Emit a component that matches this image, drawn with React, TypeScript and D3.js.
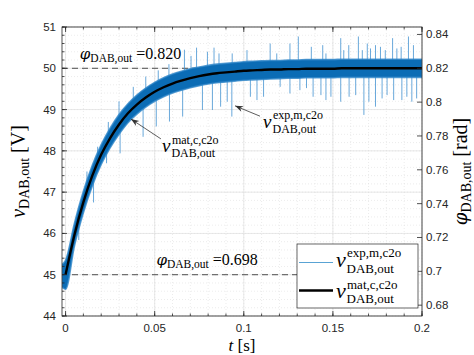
import React from "react";
import * as d3 from "d3";

// ---- data ----
const timeS = [0,0.005,0.01,0.015,0.02,0.025,0.03,0.035,0.04,0.045,0.05,0.055,0.06,0.065,0.07,0.075,0.08,0.085,0.09,0.095,0.1,0.105,0.11,0.115,0.12,0.125,0.13,0.135,0.14,0.145,0.15,0.155,0.16,0.165,0.17,0.175,0.18,0.185,0.19,0.195,0.2];
const vMat = [45.00,45.97,46.76,47.40,47.91,48.31,48.64,48.91,49.12,49.29,49.43,49.54,49.63,49.70,49.76,49.81,49.85,49.88,49.90,49.92,49.94,49.95,49.96,49.97,49.97,49.98,49.98,49.99,49.99,49.99,49.99,50.00,50.00,50.00,50.00,50.00,50.00,50.00,50.00,50.00,50.00];

const expT = [-0.002,0,0.005,0.01,0.015,0.02,0.025,0.03,0.035,0.04,0.045,0.05,0.055,0.06,0.065,0.07,0.075,0.08,0.085,0.09,0.095,0.1,0.105,0.11,0.115,0.12,0.125,0.13,0.135,0.14,0.145,0.15,0.155,0.16,0.165,0.17,0.175,0.18,0.185,0.19,0.195,0.2];
const expUpper = [45.25,45.35,46.25,47.02,47.65,48.15,48.55,48.88,49.14,49.35,49.52,49.66,49.77,49.86,49.93,49.99,50.03,50.07,50.10,50.12,50.14,50.16,50.17,50.18,50.19,50.19,50.20,50.20,50.21,50.21,50.21,50.21,50.22,50.22,50.22,50.22,50.22,50.22,50.22,50.22,50.22,50.22];
const expLower = [44.70,44.65,45.70,46.50,47.15,47.67,48.07,48.40,48.68,48.89,49.06,49.20,49.31,49.40,49.47,49.53,49.58,49.62,49.65,49.67,49.69,49.71,49.72,49.73,49.74,49.75,49.76,49.76,49.77,49.77,49.77,49.77,49.78,49.78,49.78,49.78,49.78,49.78,49.78,49.78,49.78,49.78];

const spikeUpT = [0.012,0.018,0.024,0.03,0.038,0.045,0.052,0.058,0.0667,0.0704,0.0735,0.0796,0.0833,0.0861,0.0935,0.1018,0.1148,0.1185,0.1259,0.1306,0.1379,0.1443,0.1461,0.1544,0.1561,0.1589,0.1643,0.1665,0.1693,0.1711,0.1739,0.1767,0.1794,0.1835,0.1859,0.1883,0.1924,0.1952];
const spikeUpV = [47.5,48.1,48.7,49.2,49.55,49.8,49.95,50.1,50.45,50.3,50.5,50.4,50.5,50.36,50.36,50.44,50.6,50.36,50.6,50.77,50.52,50.56,50.36,50.73,50.44,50.56,50.77,50.44,50.6,50.48,50.56,50.52,50.44,50.73,50.48,50.52,50.77,50.56];
const spikeDnT = [0.0074,0.0157,0.023,0.0306,0.0435,0.0509,0.0583,0.0657,0.0768,0.0824,0.087,0.0907,0.0933,0.1037,0.1074,0.1111,0.1204,0.1259,0.1315,0.1352,0.1389,0.1433,0.1461,0.1489,0.1544,0.1591,0.1628,0.1674,0.1702,0.1739,0.1776,0.1804,0.1841,0.1887,0.1915,0.1943,0.197];
const spikeDnV = [45.84,46.75,47.7,47.94,48.34,48.59,48.71,48.83,48.99,48.99,49.07,49.19,48.83,49.31,49.23,49.31,49.55,49.39,49.47,49.52,49.31,49.35,49.23,49.31,49.19,49.31,49.35,48.87,49.19,49.07,49.27,49.35,49.23,49.23,49.31,49.19,49.27];

const xTicks = [0, 0.05, 0.1, 0.15, 0.2];
const xTickLabels = ["0", "0.05", "0.1", "0.15", "0.2"];
const yTicks = [44, 45, 46, 47, 48, 49, 50, 51];
const yRTicks = [0.68, 0.7, 0.72, 0.74, 0.76, 0.78, 0.8, 0.82, 0.84];
const yRTickLabels = ["0.68", "0.7", "0.72", "0.74", "0.76", "0.78", "0.8", "0.82", "0.84"];
const refLevels = [50, 45];
const refLabels = ["=0.820", "=0.698"];

const AX = "#262626";
const SERIF = "'Liberation Serif', 'Times New Roman', serif";
const PHI = "'DejaVu Serif', serif";
const SANS = "'Liberation Sans', Arial, Helvetica, sans-serif";

function Sym({ x, y, main, sup, sub, size, small, supDy, subDy, gap }: any) {
  return (
    <g fontFamily={SERIF} fill="#000">
      <text x={x} y={y} fontSize={size} fontStyle="italic">{main}</text>
      <text x={x + gap} y={y - supDy} fontSize={small}>{sup}</text>
      <text x={x + gap - 0.5} y={y + subDy} fontSize={small}>{sub}</text>
    </g>
  );
}

export default function App() {
  const W = 474, H = 355;
  const L = 62, R = 422, T = 27, B = 316;
  const x = d3.scaleLinear().domain([-0.002, 0.2]).range([L, R]);
  const y = d3.scaleLinear().domain([44, 51]).range([B, T]);
  const yR = d3.scaleLinear().domain([0.6736, 0.8444]).range([B, T]);

  const matAt = (t: number) => {
    const i = Math.max(1, Math.min(timeS.length - 1, d3.bisectLeft(timeS, t)));
    const t0 = timeS[i - 1], t1 = timeS[i];
    const f = (t - t0) / (t1 - t0);
    return vMat[i - 1] + f * (vMat[i] - vMat[i - 1]);
  };

  const band = d3.area<number>()
    .x((_, i) => x(expT[i]))
    .y0((_, i) => y(expLower[i]))
    .y1((_, i) => y(expUpper[i]))
    .curve(d3.curveMonotoneX);
  const matLine = d3.line<number>()
    .x((_, i) => x(timeS[i]))
    .y((d) => y(d))
    .curve(d3.curveMonotoneX);

  const xMinor = d3.range(0, 0.2001, 0.01);
  const yMinor = d3.range(44, 51.001, 0.2);

  const arrow1 = { hx: x(0.0367), hy: y(48.77), tx: x(0.0535), ty: y(48.29) };
  const arrow2 = { hx: x(0.0951), hy: y(49.09), tx: x(0.1091), ty: y(48.84) };

  const arrowHead = (a: any) => {
    const ang = Math.atan2(a.hy - a.ty, a.hx - a.tx);
    const len = 8, wd = 3;
    const bx = a.hx - len * Math.cos(ang), by = a.hy - len * Math.sin(ang);
    const px = -Math.sin(ang) * wd, py = Math.cos(ang) * wd;
    const mx = a.hx - 0.7 * len * Math.cos(ang), my = a.hy - 0.7 * len * Math.sin(ang);
    return `M${a.hx},${a.hy}L${bx + px},${by + py}L${mx},${my}L${bx - px},${by - py}Z`;
  };

  return (
    <svg width={W} height={H} style={{ position: "absolute", left: 0, top: 0, background: "#fff" }}>
      <rect x={0} y={0} width={W} height={H} fill="#fff" />
      <defs>
        <clipPath id="plotClip">
          <rect x={L} y={T} width={R - L} height={B - T} />
        </clipPath>
      </defs>

      {/* minor grid */}
      <g stroke="#d9d9d9" strokeWidth={0.5} strokeDasharray="1,2">
        {xMinor.map((t, i) => (
          <line key={"xm" + i} x1={x(t)} x2={x(t)} y1={T} y2={B} />
        ))}
        {yMinor.map((v, i) => (
          <line key={"ym" + i} x1={L} x2={R} y1={y(v)} y2={y(v)} />
        ))}
      </g>
      {/* major grid */}
      <g stroke="#dedede" strokeWidth={0.7}>
        {xTicks.map((t, i) => (
          <line key={"xg" + i} x1={x(t)} x2={x(t)} y1={T} y2={B} />
        ))}
        {yTicks.map((v, i) => (
          <line key={"yg" + i} x1={L} x2={R} y1={y(v)} y2={y(v)} />
        ))}
      </g>

      {/* reference dashed lines */}
      <g stroke="#505050" strokeWidth={1} strokeDasharray="6,4">
        {refLevels.map((v, i) => (
          <line key={"ref" + i} x1={L} x2={R} y1={y(v)} y2={y(v)} />
        ))}
      </g>

      {/* experimental data */}
      <g clipPath="url(#plotClip)">
        <g stroke="#3a8dcf" strokeWidth={0.9} strokeOpacity={0.85}>
          {spikeUpT.map((t, i) => (
            <line key={"su" + i} x1={x(t)} x2={x(t)} y1={y(matAt(t))} y2={y(spikeUpV[i])} />
          ))}
          {spikeDnT.map((t, i) => (
            <line key={"sd" + i} x1={x(t)} x2={x(t)} y1={y(matAt(t))} y2={y(spikeDnV[i])} />
          ))}
        </g>
        <path d={band(expT) || ""} fill="#0b6cb5" stroke="#2f86c8" strokeWidth={1.6} strokeOpacity={0.8} />
        <path d={matLine(vMat) || ""} fill="none" stroke="#000" strokeWidth={2.4} />
      </g>

      {/* axes box */}
      <rect x={L} y={T} width={R - L} height={B - T} fill="none" stroke={AX} strokeWidth={0.8} />

      {/* ticks */}
      <g stroke={AX} strokeWidth={0.8}>
        {xMinor.map((t, i) => (
          <g key={"xmt" + i}>
            <line x1={x(t)} x2={x(t)} y1={B} y2={B - 2.5} />
            <line x1={x(t)} x2={x(t)} y1={T} y2={T + 2.5} />
          </g>
        ))}
        {xTicks.map((t, i) => (
          <g key={"xt" + i}>
            <line x1={x(t)} x2={x(t)} y1={B} y2={B - 5} />
            <line x1={x(t)} x2={x(t)} y1={T} y2={T + 5} />
          </g>
        ))}
        {yMinor.map((v, i) => (
          <line key={"ymt" + i} x1={L} x2={L + 2.5} y1={y(v)} y2={y(v)} />
        ))}
        {yTicks.map((v, i) => (
          <line key={"yt" + i} x1={L} x2={L + 5} y1={y(v)} y2={y(v)} />
        ))}
        {yRTicks.map((v, i) => (
          <line key={"yrt" + i} x1={R} x2={R - 5} y1={yR(v)} y2={yR(v)} />
        ))}
      </g>

      {/* tick labels */}
      <g fontFamily={SANS} fontSize={11.5} fill={AX}>
        {xTicks.map((t, i) => (
          <text key={"xl" + i} x={x(t)} y={B + 16} textAnchor="middle">{xTickLabels[i]}</text>
        ))}
        {yTicks.map((v, i) => (
          <text key={"yl" + i} x={L - 6} y={y(v) + 4} textAnchor="end">{v}</text>
        ))}
        {yRTicks.map((v, i) => (
          <text key={"yrl" + i} x={R + 4} y={yR(v) + 4} textAnchor="start">{yRTickLabels[i]}</text>
        ))}
      </g>

      {/* axis labels */}
      <text x={242} y={351} textAnchor="middle" fontFamily={SERIF} fontSize={17} fill="#000">
        <tspan fontStyle="italic">t</tspan><tspan> [s]</tspan>
      </text>
      <text transform={`translate(25,${(T + B) / 2}) rotate(-90)`} textAnchor="middle" fontFamily={SERIF} fontSize={20} fill="#000">
        <tspan fontStyle="italic">v</tspan>
        <tspan fontSize={14} dy={4}>DAB,out</tspan>
        <tspan dy={-4}> [V]</tspan>
      </text>
      <text transform={`translate(467,${(T + B) / 2}) rotate(-90)`} textAnchor="middle" fontFamily={SERIF} fontSize={20} fill="#000">
        <tspan fontStyle="italic" fontFamily={PHI} fontSize={18}>φ</tspan>
        <tspan fontSize={14} dy={4}>DAB,out</tspan>
        <tspan dy={-4}> [rad]</tspan>
      </text>

      {/* reference value labels */}
      {refLevels.map((v, i) => (
        <text key={"rl" + i} x={i === 0 ? x(0.008) : x(0.051)} y={y(v) - (i === 0 ? 9 : 10)} fontFamily={SERIF} fontSize={16} fill="#000">
          <tspan fontStyle="italic" fontFamily={PHI} fontSize={15}>φ</tspan>
          <tspan fontSize={11.5} dy={3}>DAB,out</tspan>
          <tspan dy={-3}> {refLabels[i]}</tspan>
        </text>
      ))}

      {/* arrows */}
      {[arrow1, arrow2].map((a, i) => (
        <g key={"ar" + i}>
          <line x1={a.tx} y1={a.ty} x2={a.hx} y2={a.hy} stroke="#333" strokeWidth={0.8} />
          <path d={arrowHead(a)} fill="#333" />
        </g>
      ))}
      <Sym x={arrow1.tx + 1} y={arrow1.ty + 13} main="v" sup="mat,c,c2o" sub="DAB,out" size={19} small={12} supDy={8} subDy={5} gap={10} />
      <Sym x={arrow2.tx + 3} y={arrow2.ty + 12} main="v" sup="exp,m,c2o" sub="DAB,out" size={19} small={12} supDy={9} subDy={5} gap={10} />

      {/* legend */}
      <rect x={297} y={244} width={121} height={64} fill="#fff" stroke={AX} strokeWidth={0.7} />
      <line x1={299} x2={333} y1={262.5} y2={262.5} stroke="#0072bd" strokeOpacity={0.65} strokeWidth={1.2} />
      <line x1={299} x2={333} y1={290.5} y2={290.5} stroke="#000" strokeWidth={2.4} />
      <Sym x={336} y={267} main="v" sup="exp,m,c2o" sub="DAB,out" size={22} small={13} supDy={10} subDy={5.5} gap={11} />
      <Sym x={336} y={298} main="v" sup="mat,c,c2o" sub="DAB,out" size={22} small={13} supDy={9.5} subDy={5} gap={11} />
    </svg>
  );
}
